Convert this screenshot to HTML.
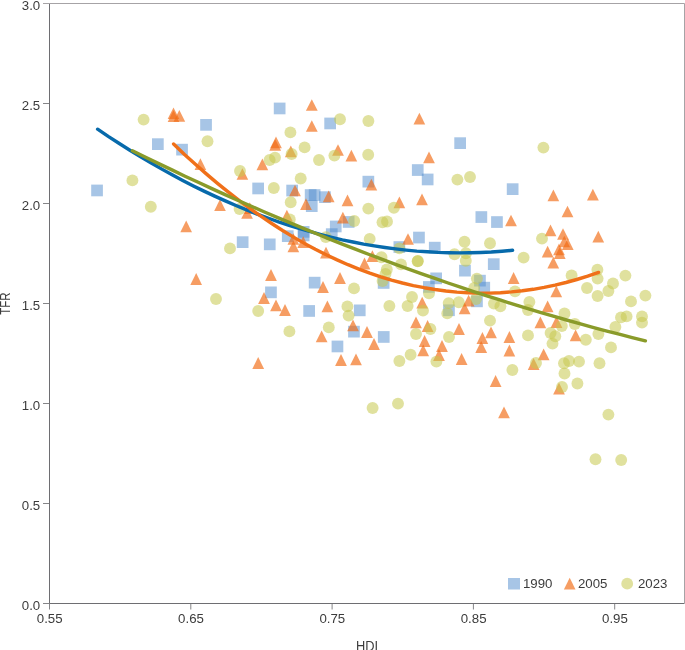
<!DOCTYPE html>
<html><head><meta charset="utf-8"><title>HDI vs TFR</title>
<style>
html,body{margin:0;padding:0;background:#fff;}
body{width:685px;height:650px;overflow:hidden;}
svg{display:block;font-family:"Liberation Sans",sans-serif;font-size:13px;fill:#3c3c3c;}
</style></head><body>
<svg width="685" height="650" viewBox="0 0 685 650">
<rect width="685" height="650" fill="#fff"/>
<g fill="#4f8bcd" fill-opacity="0.5"><rect x="91.2" y="184.6" width="11.7" height="11.7"/><rect x="152.0" y="138.3" width="11.7" height="11.7"/><rect x="176.2" y="143.8" width="11.7" height="11.7"/><rect x="200.2" y="119.0" width="11.7" height="11.7"/><rect x="273.8" y="102.6" width="11.7" height="11.7"/><rect x="324.3" y="117.6" width="11.7" height="11.7"/><rect x="252.3" y="182.6" width="11.7" height="11.7"/><rect x="286.3" y="184.7" width="11.7" height="11.7"/><rect x="304.8" y="189.2" width="11.7" height="11.7"/><rect x="308.8" y="189.2" width="11.7" height="11.7"/><rect x="319.1" y="191.3" width="11.7" height="11.7"/><rect x="305.9" y="200.3" width="11.7" height="11.7"/><rect x="329.9" y="220.6" width="11.7" height="11.7"/><rect x="325.9" y="228.3" width="11.7" height="11.7"/><rect x="342.8" y="216.1" width="11.7" height="11.7"/><rect x="297.8" y="226.0" width="11.7" height="11.7"/><rect x="297.8" y="229.6" width="11.7" height="11.7"/><rect x="281.9" y="230.3" width="11.7" height="11.7"/><rect x="263.9" y="238.5" width="11.7" height="11.7"/><rect x="236.8" y="236.3" width="11.7" height="11.7"/><rect x="308.8" y="276.8" width="11.7" height="11.7"/><rect x="265.1" y="286.5" width="11.7" height="11.7"/><rect x="303.3" y="305.1" width="11.7" height="11.7"/><rect x="331.6" y="340.6" width="11.7" height="11.7"/><rect x="454.3" y="137.3" width="11.7" height="11.7"/><rect x="411.9" y="164.2" width="11.7" height="11.7"/><rect x="421.8" y="173.6" width="11.7" height="11.7"/><rect x="362.5" y="175.8" width="11.7" height="11.7"/><rect x="506.8" y="183.3" width="11.7" height="11.7"/><rect x="475.5" y="211.2" width="11.7" height="11.7"/><rect x="491.1" y="216.2" width="11.7" height="11.7"/><rect x="413.1" y="231.7" width="11.7" height="11.7"/><rect x="393.5" y="241.2" width="11.7" height="11.7"/><rect x="428.9" y="241.8" width="11.7" height="11.7"/><rect x="459.1" y="264.8" width="11.7" height="11.7"/><rect x="487.9" y="258.3" width="11.7" height="11.7"/><rect x="430.3" y="272.5" width="11.7" height="11.7"/><rect x="423.0" y="281.1" width="11.7" height="11.7"/><rect x="377.8" y="277.1" width="11.7" height="11.7"/><rect x="474.1" y="274.8" width="11.7" height="11.7"/><rect x="478.4" y="281.8" width="11.7" height="11.7"/><rect x="471.1" y="295.5" width="11.7" height="11.7"/><rect x="353.9" y="304.5" width="11.7" height="11.7"/><rect x="443.1" y="304.4" width="11.7" height="11.7"/><rect x="348.1" y="325.8" width="11.7" height="11.7"/><rect x="377.9" y="331.1" width="11.7" height="11.7"/></g>
<g fill="#f26a12" fill-opacity="0.66"><path d="M173.5 107.4L179.3 119.0H167.7Z"/><path d="M173.5 110.2L179.3 121.9H167.7Z"/><path d="M179.3 110.1L185.2 121.8H173.5Z"/><path d="M200.4 158.3L206.2 170.0H194.6Z"/><path d="M311.8 99.2L317.7 110.8H305.9Z"/><path d="M311.8 120.2L317.7 131.8H305.9Z"/><path d="M276.0 136.6L281.9 148.2H270.1Z"/><path d="M275.2 139.2L281.1 150.8H269.3Z"/><path d="M290.8 145.6L296.7 157.2H284.9Z"/><path d="M338.0 144.2L343.9 155.8H332.1Z"/><path d="M262.4 158.6L268.2 170.2H256.5Z"/><path d="M242.4 168.2L248.2 179.8H236.6Z"/><path d="M295.0 184.7L300.9 196.3H289.1Z"/><path d="M328.7 190.6L334.6 202.2H322.8Z"/><path d="M306.0 198.3L311.9 210.0H300.1Z"/><path d="M220.0 199.3L225.8 211.0H214.2Z"/><path d="M249.8 202.3L255.7 214.0H244.0Z"/><path d="M247.1 207.2L252.9 218.8H241.2Z"/><path d="M286.9 209.8L292.8 221.5H281.0Z"/><path d="M347.5 194.6L353.4 206.2H341.6Z"/><path d="M342.9 211.8L348.8 223.4H337.0Z"/><path d="M186.2 220.6L192.0 232.2H180.3Z"/><path d="M196.2 273.1L202.0 284.9H190.3Z"/><path d="M293.4 233.2L299.2 244.8H287.5Z"/><path d="M293.4 240.7L299.2 252.3H287.5Z"/><path d="M303.2 236.3L309.1 248.0H297.3Z"/><path d="M326.0 246.8L331.9 258.4H320.1Z"/><path d="M271.0 269.1L276.9 280.9H265.1Z"/><path d="M323.0 281.1L328.9 292.9H317.1Z"/><path d="M340.0 272.1L345.9 283.9H334.1Z"/><path d="M264.0 292.1L269.9 303.9H258.1Z"/><path d="M276.0 299.5L281.9 311.2H270.1Z"/><path d="M285.0 304.1L290.9 315.9H279.1Z"/><path d="M327.4 300.5L333.2 312.2H321.5Z"/><path d="M321.6 330.5L327.5 342.2H315.8Z"/><path d="M258.2 357.1L264.1 368.9H252.3Z"/><path d="M419.4 112.8L425.2 124.4H413.5Z"/><path d="M351.4 149.8L357.2 161.4H345.5Z"/><path d="M429.0 151.6L434.9 163.2H423.1Z"/><path d="M371.4 178.8L377.2 190.4H365.5Z"/><path d="M399.4 196.5L405.2 208.2H393.5Z"/><path d="M422.0 193.5L427.9 205.2H416.1Z"/><path d="M408.0 233.2L413.9 244.8H402.1Z"/><path d="M372.4 250.2L378.2 261.9H366.5Z"/><path d="M364.5 257.6L370.4 269.4H358.6Z"/><path d="M422.2 296.8L428.1 308.5H416.3Z"/><path d="M468.6 294.8L474.5 306.6H462.8Z"/><path d="M464.6 302.4L470.5 314.2H458.8Z"/><path d="M416.0 316.5L421.9 328.2H410.1Z"/><path d="M427.6 320.1L433.5 331.9H421.8Z"/><path d="M353.0 319.5L358.9 331.2H347.1Z"/><path d="M367.0 326.1L372.9 337.9H361.1Z"/><path d="M459.0 323.1L464.9 334.9H453.1Z"/><path d="M374.0 338.1L379.9 349.9H368.1Z"/><path d="M424.6 335.1L430.5 346.9H418.8Z"/><path d="M442.0 340.1L447.9 351.9H436.1Z"/><path d="M423.2 344.4L429.1 356.2H417.3Z"/><path d="M341.0 354.1L346.9 365.9H335.1Z"/><path d="M356.0 353.5L361.9 365.2H350.1Z"/><path d="M439.0 349.1L444.9 360.9H433.1Z"/><path d="M461.6 353.1L467.5 364.9H455.8Z"/><path d="M553.4 189.6L559.2 201.2H547.5Z"/><path d="M592.9 188.8L598.8 200.4H587.0Z"/><path d="M567.5 205.7L573.4 217.3H561.6Z"/><path d="M511.0 214.7L516.9 226.3H505.1Z"/><path d="M550.5 224.6L556.4 236.2H544.6Z"/><path d="M563.0 228.2L568.9 239.8H557.1Z"/><path d="M564.3 235.7L570.1 247.3H558.4Z"/><path d="M567.8 238.3L573.6 250.0H561.9Z"/><path d="M559.0 243.5L564.9 255.2H553.1Z"/><path d="M559.7 247.2L565.6 258.9H553.9Z"/><path d="M547.6 245.8L553.5 257.4H541.8Z"/><path d="M553.3 256.8L559.1 268.5H547.4Z"/><path d="M598.3 230.8L604.1 242.5H592.4Z"/><path d="M513.6 272.1L519.5 283.9H507.8Z"/><path d="M556.3 285.4L562.1 297.2H550.4Z"/><path d="M547.6 300.5L553.5 312.2H541.8Z"/><path d="M540.4 316.5L546.2 328.2H534.5Z"/><path d="M556.5 316.1L562.4 327.9H550.6Z"/><path d="M491.0 326.5L496.9 338.2H485.1Z"/><path d="M509.4 331.1L515.2 342.9H503.5Z"/><path d="M482.4 332.1L488.2 343.9H476.5Z"/><path d="M575.6 329.5L581.5 341.2H569.8Z"/><path d="M481.2 341.1L487.1 352.9H475.3Z"/><path d="M509.4 344.6L515.2 356.4H503.5Z"/><path d="M543.6 348.5L549.5 360.2H537.8Z"/><path d="M533.6 358.1L539.5 369.9H527.8Z"/><path d="M495.6 375.1L501.5 386.9H489.8Z"/><path d="M504.0 406.5L509.9 418.2H498.1Z"/><path d="M559.0 382.8L564.9 394.6H553.1Z"/></g>
<g fill="#c6c84f" fill-opacity="0.55"><circle cx="143.6" cy="119.6" r="5.95"/><circle cx="207.5" cy="141.3" r="5.95"/><circle cx="132.4" cy="180.4" r="5.95"/><circle cx="150.8" cy="206.8" r="5.95"/><circle cx="290.4" cy="132.4" r="5.95"/><circle cx="340.0" cy="119.2" r="5.95"/><circle cx="304.6" cy="147.4" r="5.95"/><circle cx="291.6" cy="154.0" r="5.95"/><circle cx="275.0" cy="157.6" r="5.95"/><circle cx="269.6" cy="160.0" r="5.95"/><circle cx="319.0" cy="160.0" r="5.95"/><circle cx="334.4" cy="155.6" r="5.95"/><circle cx="240.0" cy="171.0" r="5.95"/><circle cx="300.7" cy="178.5" r="5.95"/><circle cx="273.8" cy="188.0" r="5.95"/><circle cx="290.7" cy="202.2" r="5.95"/><circle cx="239.6" cy="209.0" r="5.95"/><circle cx="289.8" cy="219.5" r="5.95"/><circle cx="368.4" cy="121.0" r="5.95"/><circle cx="368.2" cy="154.8" r="5.95"/><circle cx="457.4" cy="179.6" r="5.95"/><circle cx="470.0" cy="177.0" r="5.95"/><circle cx="368.3" cy="208.6" r="5.95"/><circle cx="393.9" cy="207.8" r="5.95"/><circle cx="354.2" cy="221.0" r="5.95"/><circle cx="382.5" cy="222.2" r="5.95"/><circle cx="387.0" cy="221.5" r="5.95"/><circle cx="543.4" cy="147.6" r="5.95"/><circle cx="230.0" cy="248.4" r="5.95"/><circle cx="325.8" cy="237.1" r="5.95"/><circle cx="216.0" cy="299.0" r="5.95"/><circle cx="258.2" cy="311.0" r="5.95"/><circle cx="289.4" cy="331.4" r="5.95"/><circle cx="328.8" cy="327.4" r="5.95"/><circle cx="369.7" cy="238.9" r="5.95"/><circle cx="399.4" cy="248.4" r="5.95"/><circle cx="381.5" cy="257.2" r="5.95"/><circle cx="401.0" cy="264.4" r="5.95"/><circle cx="417.6" cy="261.2" r="5.95"/><circle cx="417.9" cy="261.0" r="5.95"/><circle cx="386.8" cy="269.5" r="5.95"/><circle cx="385.5" cy="274.0" r="5.95"/><circle cx="382.6" cy="281.0" r="5.95"/><circle cx="354.0" cy="288.4" r="5.95"/><circle cx="464.5" cy="241.7" r="5.95"/><circle cx="454.5" cy="254.2" r="5.95"/><circle cx="465.9" cy="253.3" r="5.95"/><circle cx="465.8" cy="260.8" r="5.95"/><circle cx="429.0" cy="293.2" r="5.95"/><circle cx="412.0" cy="297.0" r="5.95"/><circle cx="407.6" cy="306.0" r="5.95"/><circle cx="389.4" cy="306.0" r="5.95"/><circle cx="423.0" cy="310.6" r="5.95"/><circle cx="448.7" cy="303.1" r="5.95"/><circle cx="458.8" cy="302.2" r="5.95"/><circle cx="447.3" cy="313.4" r="5.95"/><circle cx="347.4" cy="306.4" r="5.95"/><circle cx="348.6" cy="315.6" r="5.95"/><circle cx="430.4" cy="329.0" r="5.95"/><circle cx="416.0" cy="334.0" r="5.95"/><circle cx="449.0" cy="337.0" r="5.95"/><circle cx="410.6" cy="354.8" r="5.95"/><circle cx="399.4" cy="361.0" r="5.95"/><circle cx="436.4" cy="361.6" r="5.95"/><circle cx="372.6" cy="408.0" r="5.95"/><circle cx="398.0" cy="403.6" r="5.95"/><circle cx="542.0" cy="238.6" r="5.95"/><circle cx="490.0" cy="243.2" r="5.95"/><circle cx="523.6" cy="257.6" r="5.95"/><circle cx="476.9" cy="278.6" r="5.95"/><circle cx="474.2" cy="288.0" r="5.95"/><circle cx="476.0" cy="299.0" r="5.95"/><circle cx="515.0" cy="291.4" r="5.95"/><circle cx="529.4" cy="302.0" r="5.95"/><circle cx="493.9" cy="303.6" r="5.95"/><circle cx="500.4" cy="306.2" r="5.95"/><circle cx="528.0" cy="310.0" r="5.95"/><circle cx="571.6" cy="275.4" r="5.95"/><circle cx="597.4" cy="269.7" r="5.95"/><circle cx="597.6" cy="278.6" r="5.95"/><circle cx="587.0" cy="288.0" r="5.95"/><circle cx="597.6" cy="296.0" r="5.95"/><circle cx="564.5" cy="313.5" r="5.95"/><circle cx="490.0" cy="320.6" r="5.95"/><circle cx="561.8" cy="326.0" r="5.95"/><circle cx="574.8" cy="324.0" r="5.95"/><circle cx="528.0" cy="335.4" r="5.95"/><circle cx="550.6" cy="333.0" r="5.95"/><circle cx="555.3" cy="336.3" r="5.95"/><circle cx="552.5" cy="343.6" r="5.95"/><circle cx="585.8" cy="339.8" r="5.95"/><circle cx="598.4" cy="334.0" r="5.95"/><circle cx="625.4" cy="275.6" r="5.95"/><circle cx="613.0" cy="283.5" r="5.95"/><circle cx="608.4" cy="291.0" r="5.95"/><circle cx="645.4" cy="295.6" r="5.95"/><circle cx="631.0" cy="301.4" r="5.95"/><circle cx="621.0" cy="317.4" r="5.95"/><circle cx="626.6" cy="316.4" r="5.95"/><circle cx="642.0" cy="316.4" r="5.95"/><circle cx="642.0" cy="322.6" r="5.95"/><circle cx="615.4" cy="327.0" r="5.95"/><circle cx="611.0" cy="347.4" r="5.95"/><circle cx="569.0" cy="361.0" r="5.95"/><circle cx="564.0" cy="363.2" r="5.95"/><circle cx="579.0" cy="361.6" r="5.95"/><circle cx="599.5" cy="363.2" r="5.95"/><circle cx="564.5" cy="373.5" r="5.95"/><circle cx="577.4" cy="383.5" r="5.95"/><circle cx="562.0" cy="387.0" r="5.95"/><circle cx="536.0" cy="363.0" r="5.95"/><circle cx="512.4" cy="370.0" r="5.95"/><circle cx="595.5" cy="459.3" r="5.95"/><circle cx="621.2" cy="460.0" r="5.95"/><circle cx="608.4" cy="414.6" r="5.95"/></g>
<g fill="none" stroke-width="3.4" stroke-linecap="round" stroke-linejoin="round">
<path d="M97.6 129.2 L108.2 136.4 L118.9 143.3 L129.5 150.0 L140.2 156.5 L150.8 162.8 L161.4 168.9 L172.1 174.8 L182.7 180.4 L193.4 185.9 L204.0 191.1 L214.7 196.1 L225.3 200.9 L235.9 205.5 L246.6 209.9 L257.2 214.1 L267.9 218.0 L278.5 221.8 L289.1 225.3 L299.8 228.6 L310.4 231.7 L321.1 234.6 L331.7 237.3 L342.3 239.8 L353.0 242.0 L363.6 244.1 L374.3 245.9 L384.9 247.5 L395.5 248.9 L406.2 250.1 L416.8 251.1 L427.5 251.8 L438.1 252.4 L448.8 252.7 L459.4 252.9 L470.0 252.8 L480.7 252.5 L491.3 252.0 L502.0 251.2 L512.6 250.3" stroke="#076aab"/>
<path d="M173.6 144.0 L184.5 154.4 L195.4 164.3 L206.3 173.9 L217.2 183.1 L228.1 191.9 L239.0 200.4 L249.9 208.5 L260.8 216.2 L271.7 223.5 L282.6 230.5 L293.5 237.1 L304.4 243.4 L315.3 249.3 L326.2 254.8 L337.1 259.9 L348.0 264.7 L358.9 269.1 L369.8 273.1 L380.7 276.8 L391.5 280.1 L402.4 283.0 L413.3 285.6 L424.2 287.7 L435.1 289.5 L446.0 291.0 L456.9 292.1 L467.8 292.8 L478.7 293.1 L489.6 293.1 L500.5 292.7 L511.4 291.9 L522.3 290.8 L533.2 289.3 L544.1 287.4 L555.0 285.1 L565.9 282.5 L576.8 279.5 L587.7 276.2 L598.6 272.4" stroke="#f07019"/>
<path d="M132.4 150.8 L145.6 157.2 L158.7 163.6 L171.9 169.9 L185.0 176.2 L198.2 182.3 L211.3 188.4 L224.5 194.4 L237.6 200.2 L250.8 206.0 L263.9 211.8 L277.1 217.4 L290.2 222.9 L303.4 228.4 L316.6 233.8 L329.7 239.1 L342.9 244.3 L356.0 249.4 L369.2 254.5 L382.3 259.4 L395.5 264.3 L408.6 269.1 L421.8 273.8 L434.9 278.4 L448.1 283.0 L461.2 287.4 L474.4 291.8 L487.6 296.1 L500.7 300.2 L513.9 304.4 L527.0 308.4 L540.2 312.3 L553.3 316.2 L566.5 320.0 L579.6 323.7 L592.8 327.3 L605.9 330.8 L619.1 334.2 L632.2 337.6 L645.4 340.8" stroke="#8a9b2a"/>
</g>
<g fill="none" stroke="#858588" stroke-width="1"><path d="M43 603.5H49.5"/><path d="M43 503.5H49.5"/><path d="M43 403.5H49.5"/><path d="M43 303.5H49.5"/><path d="M43 203.5H49.5"/><path d="M43 103.5H49.5"/><path d="M43 3.5H49.5"/><path d="M49.5 603.5V609.5"/><path d="M190.8 603.5V609.5"/><path d="M332.1 603.5V609.5"/><path d="M473.4 603.5V609.5"/><path d="M614.7 603.5V609.5"/></g>
<path d="M49.5 3.5V603.5H684.5" fill="none" stroke="#6e6e72" stroke-width="1"/>
<path d="M43 3.5H684.5V603.5" fill="none" stroke="#a6a3a6" stroke-width="1"/>
<g><text transform="translate(40.2 609.6) scale(1.02 1)" text-anchor="end">0.0</text><text transform="translate(40.2 509.6) scale(1.02 1)" text-anchor="end">0.5</text><text transform="translate(40.2 409.6) scale(1.02 1)" text-anchor="end">1.0</text><text transform="translate(40.2 309.6) scale(1.02 1)" text-anchor="end">1.5</text><text transform="translate(40.2 209.6) scale(1.02 1)" text-anchor="end">2.0</text><text transform="translate(40.2 109.6) scale(1.02 1)" text-anchor="end">2.5</text><text transform="translate(40.2 9.6) scale(1.02 1)" text-anchor="end">3.0</text><text transform="translate(49.7 623.4) scale(1.02 1)" text-anchor="middle">0.55</text><text transform="translate(191.0 623.4) scale(1.02 1)" text-anchor="middle">0.65</text><text transform="translate(332.3 623.4) scale(1.02 1)" text-anchor="middle">0.75</text><text transform="translate(473.6 623.4) scale(1.02 1)" text-anchor="middle">0.85</text><text transform="translate(614.9 623.4) scale(1.02 1)" text-anchor="middle">0.95</text></g>
<text transform="translate(367 650.8) scale(0.885 1)" text-anchor="middle" font-size="14.5">HDI</text>
<text transform="translate(9.8 303.6) rotate(-90) scale(0.79 1)" text-anchor="middle" font-size="14.5">TFR</text>
<g>
<rect x="508" y="578" width="12" height="11.5" fill="#4f8bcd" fill-opacity="0.5"/>
<text transform="translate(523.0 587.8) scale(1.02 1)" text-anchor="start">1990</text>
<path d="M569.7 577.8L575.5 589.5H563.9Z" fill="#f26a12" fill-opacity="0.66"/>
<text transform="translate(578.0 587.7) scale(1.02 1)" text-anchor="start">2005</text>
<circle cx="627.2" cy="583.7" r="5.9" fill="#c6c84f" fill-opacity="0.55"/>
<text transform="translate(638.0 587.7) scale(1.02 1)" text-anchor="start">2023</text>
</g>
</svg>
</body></html>
